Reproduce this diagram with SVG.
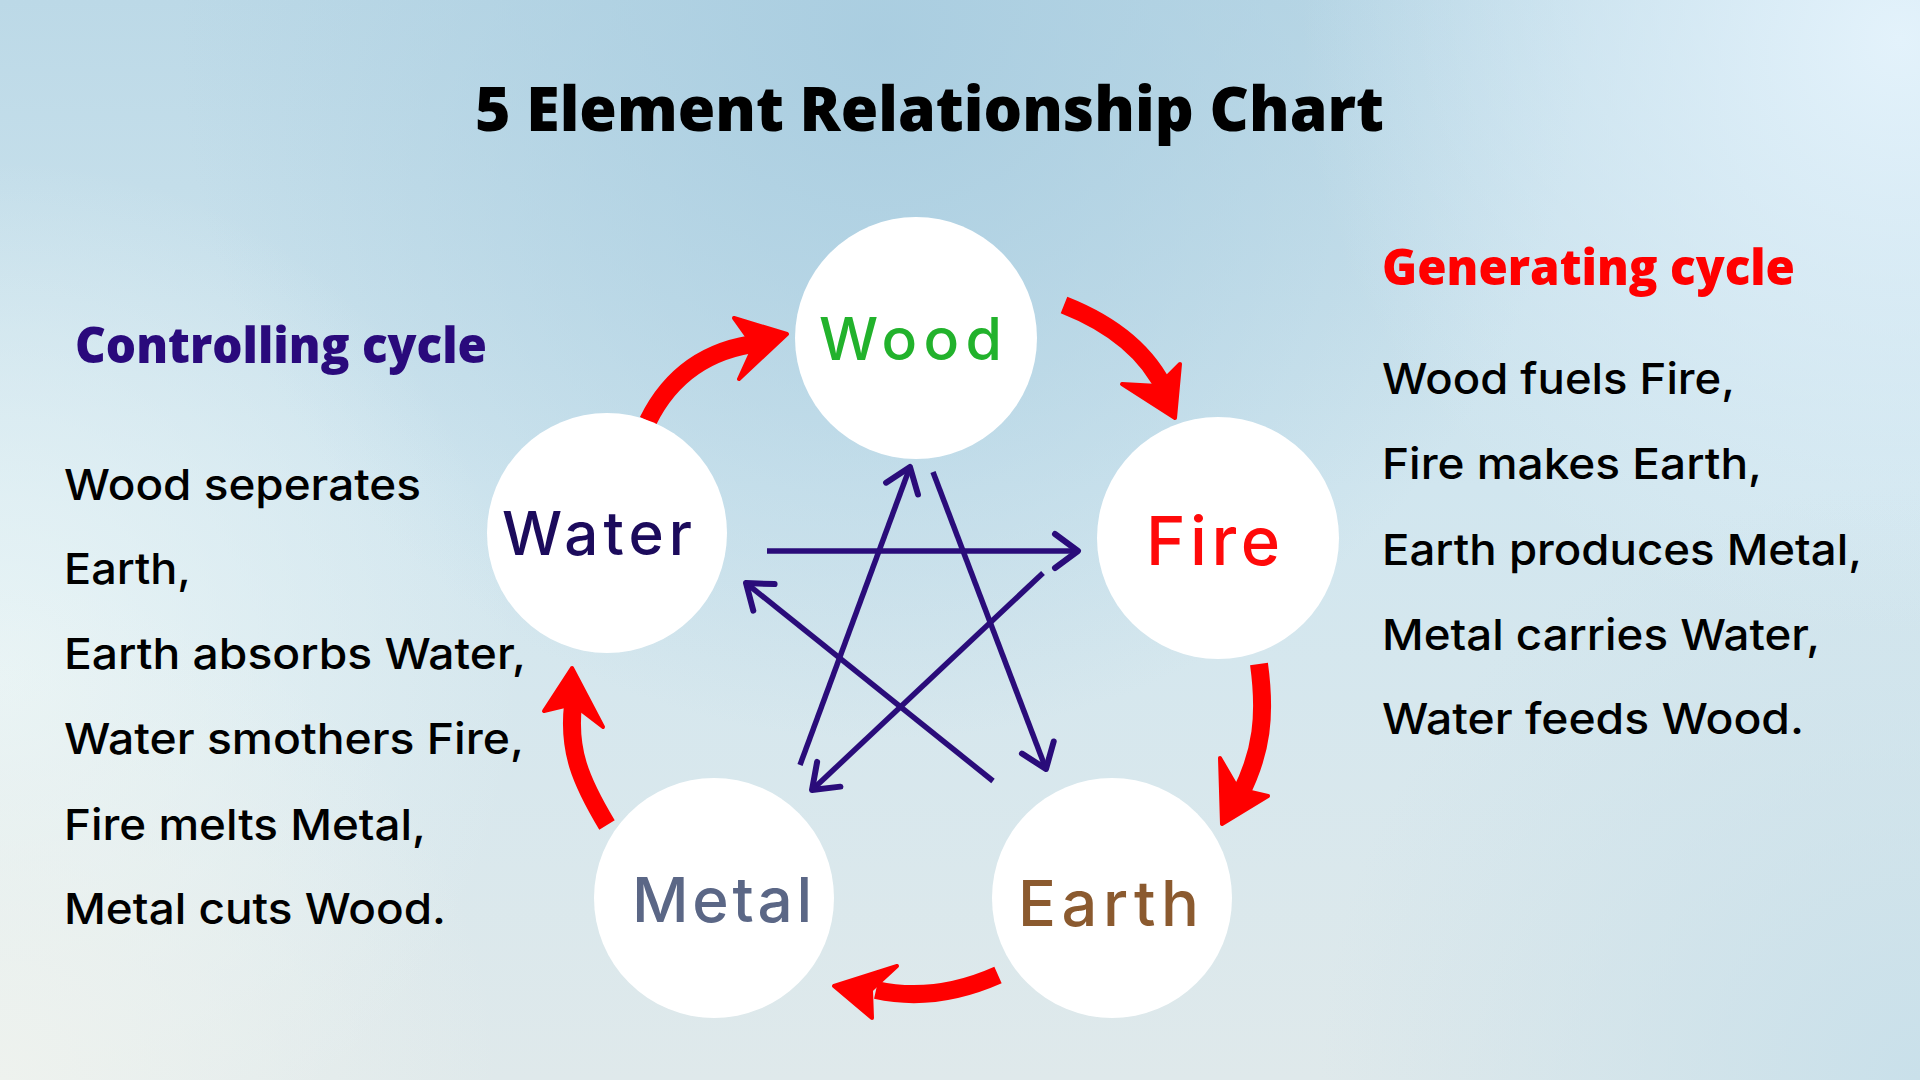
<svg xmlns="http://www.w3.org/2000/svg" width="1920" height="1080" viewBox="0 0 1920 1080">
  <defs>
    <linearGradient id="bgLin" x1="0" y1="0" x2="0" y2="1">
      <stop offset="0" stop-color="#bcd9e7"/>
      <stop offset="0.45" stop-color="#d1e6ef"/>
      <stop offset="1" stop-color="#dfe9eb"/>
    </linearGradient>
    <radialGradient id="bgTop" cx="880" cy="40" r="700" gradientUnits="userSpaceOnUse">
      <stop offset="0" stop-color="#a9cde0" stop-opacity="0.95"/>
      <stop offset="1" stop-color="#a9cde0" stop-opacity="0"/>
    </radialGradient>
    <radialGradient id="bgTR" cx="1900" cy="40" r="600" gradientUnits="userSpaceOnUse">
      <stop offset="0" stop-color="#e3f2fb" stop-opacity="1"/>
      <stop offset="1" stop-color="#e3f2fb" stop-opacity="0"/>
    </radialGradient>
    <radialGradient id="bgL" cx="0" cy="680" r="520" gradientUnits="userSpaceOnUse">
      <stop offset="0" stop-color="#e8f4f6" stop-opacity="1"/>
      <stop offset="1" stop-color="#e8f4f6" stop-opacity="0"/>
    </radialGradient>
    <radialGradient id="bgBR" cx="1920" cy="1080" r="600" gradientUnits="userSpaceOnUse">
      <stop offset="0" stop-color="#c9e0ea" stop-opacity="1"/>
      <stop offset="1" stop-color="#c9e0ea" stop-opacity="0"/>
    </radialGradient>
    <radialGradient id="bgBL" cx="0" cy="1080" r="500" gradientUnits="userSpaceOnUse">
      <stop offset="0" stop-color="#eef2ee" stop-opacity="1"/>
      <stop offset="1" stop-color="#eef2ee" stop-opacity="0"/>
    </radialGradient>
    <marker id="chev" markerUnits="userSpaceOnUse" markerWidth="60" markerHeight="60" viewBox="-30 -30 60 60" refX="0" refY="0" orient="auto" overflow="visible">
      <path d="M-23,-17 L0,0 L-23,17" fill="none" stroke="#2a0c7a" stroke-width="6" stroke-linecap="round" stroke-linejoin="round"/>
    </marker>
    <style>
      .node-circle { fill: #ffffff; }
      .node-label { font-family: Inter, "Noto Sans", "Liberation Sans", sans-serif; font-weight: 500; }
      .red-shaft { fill: none; stroke: #ff0000; stroke-width: 18; stroke-linecap: butt; }
      .red-head { fill: #ff0000; stroke: #ff0000; stroke-width: 4; stroke-linejoin: round; }
      .navy-line { fill: none; stroke: #2a0c7a; stroke-width: 5.5; marker-end: url(#chev); }
      .title { font-family: "Open Sans", "Liberation Sans", sans-serif; font-weight: 800; }
      .body { font-family: Inter, "Noto Sans", "Liberation Sans", sans-serif; font-weight: 500; font-size: 43px; fill: #000000; }
    </style>
  </defs>

  <g id="background">
    <rect x="0" y="0" width="1920" height="1080" fill="url(#bgLin)"/>
    <rect x="0" y="0" width="1920" height="1080" fill="url(#bgTop)"/>
    <rect x="0" y="0" width="1920" height="1080" fill="url(#bgTR)"/>
    <rect x="0" y="0" width="1920" height="1080" fill="url(#bgL)"/>
    <rect x="0" y="0" width="1920" height="1080" fill="url(#bgBR)"/>
    <rect x="0" y="0" width="1920" height="1080" fill="url(#bgBL)"/>
  </g>

  <text id="title" class="title" x="475" y="131" font-size="62" fill="#000000" textLength="909" lengthAdjust="spacingAndGlyphs">5 Element Relationship Chart</text>

  <g id="controlling-legend">
    <text class="title" x="75" y="363" font-size="50" fill="#2a0a7c" textLength="412" lengthAdjust="spacingAndGlyphs">Controlling cycle</text>
    <text class="body" x="64" y="500" textLength="357" lengthAdjust="spacingAndGlyphs">Wood seperates</text>
    <text class="body" x="64" y="584" textLength="127" lengthAdjust="spacingAndGlyphs">Earth,</text>
    <text class="body" x="64" y="669" textLength="462" lengthAdjust="spacingAndGlyphs">Earth absorbs Water,</text>
    <text class="body" x="64" y="754" textLength="460" lengthAdjust="spacingAndGlyphs">Water smothers Fire,</text>
    <text class="body" x="64" y="840" textLength="362" lengthAdjust="spacingAndGlyphs">Fire melts Metal,</text>
    <text class="body" x="64" y="924" textLength="382" lengthAdjust="spacingAndGlyphs">Metal cuts Wood.</text>
  </g>

  <g id="generating-legend">
    <text class="title" x="1382" y="285" font-size="50" fill="#ff0000" textLength="413" lengthAdjust="spacingAndGlyphs">Generating cycle</text>
    <text class="body" x="1382" y="394" textLength="353" lengthAdjust="spacingAndGlyphs">Wood fuels Fire,</text>
    <text class="body" x="1382" y="479" textLength="380" lengthAdjust="spacingAndGlyphs">Fire makes Earth,</text>
    <text class="body" x="1382" y="565" textLength="480" lengthAdjust="spacingAndGlyphs">Earth produces Metal,</text>
    <text class="body" x="1382" y="650" textLength="438" lengthAdjust="spacingAndGlyphs">Metal carries Water,</text>
    <text class="body" x="1382" y="734" textLength="422" lengthAdjust="spacingAndGlyphs">Water feeds Wood.</text>
  </g>

  <g id="connectors">
    <g id="generating-arrows">
      <path class="red-shaft" d="M648,421 Q682,352 760,343"/>
      <polygon class="red-head" points="787,334 734,318 754,346 739,379"/>
      <path class="red-shaft" d="M1064,305 Q1140,335 1166,392"/>
      <polygon class="red-head" points="1175,418 1122,384 1158,386 1180,364"/>
      <path class="red-shaft" d="M1259,664 C1266,715 1262,752 1240,795"/>
      <polygon class="red-head" points="1222,824 1220,758 1238,789 1268,796"/>
      <path class="red-shaft" d="M998,975 Q935,1003 876,990"/>
      <polygon class="red-head" points="834,986 897,966 871,990 872,1018"/>
      <path class="red-shaft" d="M607,825 C580,780 568,750 573,705"/>
      <polygon class="red-head" points="572,668 544,711 573,704 603,727"/>
    </g>
    <g id="controlling-arrows">
      <line class="navy-line" x1="767" y1="551" x2="1078" y2="551"/>
      <line class="navy-line" x1="933" y1="472" x2="1046" y2="769"/>
      <line class="navy-line" x1="993" y1="781" x2="746" y2="583"/>
      <line class="navy-line" x1="1043" y1="573" x2="812" y2="790"/>
      <line class="navy-line" x1="800" y1="765" x2="910" y2="467"/>
    </g>
  </g>

  <g id="node-wood">
    <circle class="node-circle" cx="916" cy="338" r="121"/>
    <text class="node-label" x="819" y="360" font-size="59" fill="#22b22c" textLength="183">Wood</text>
  </g>
  <g id="node-fire">
    <circle class="node-circle" cx="1218" cy="538" r="121"/>
    <text class="node-label" x="1146" y="565" font-size="67" fill="#ff0a0a" textLength="134">Fire</text>
  </g>
  <g id="node-earth">
    <circle class="node-circle" cx="1112" cy="898" r="120"/>
    <text class="node-label" x="1018" y="926" font-size="63" fill="#8b5a2f" textLength="181">Earth</text>
  </g>
  <g id="node-metal">
    <circle class="node-circle" cx="714" cy="898" r="120"/>
    <text class="node-label" x="632" y="922" font-size="62" fill="#5b6786" textLength="180">Metal</text>
  </g>
  <g id="node-water">
    <circle class="node-circle" cx="607" cy="533" r="120"/>
    <text class="node-label" x="502" y="555" font-size="60" fill="#1c0b5c" textLength="190">Water</text>
  </g>
</svg>
